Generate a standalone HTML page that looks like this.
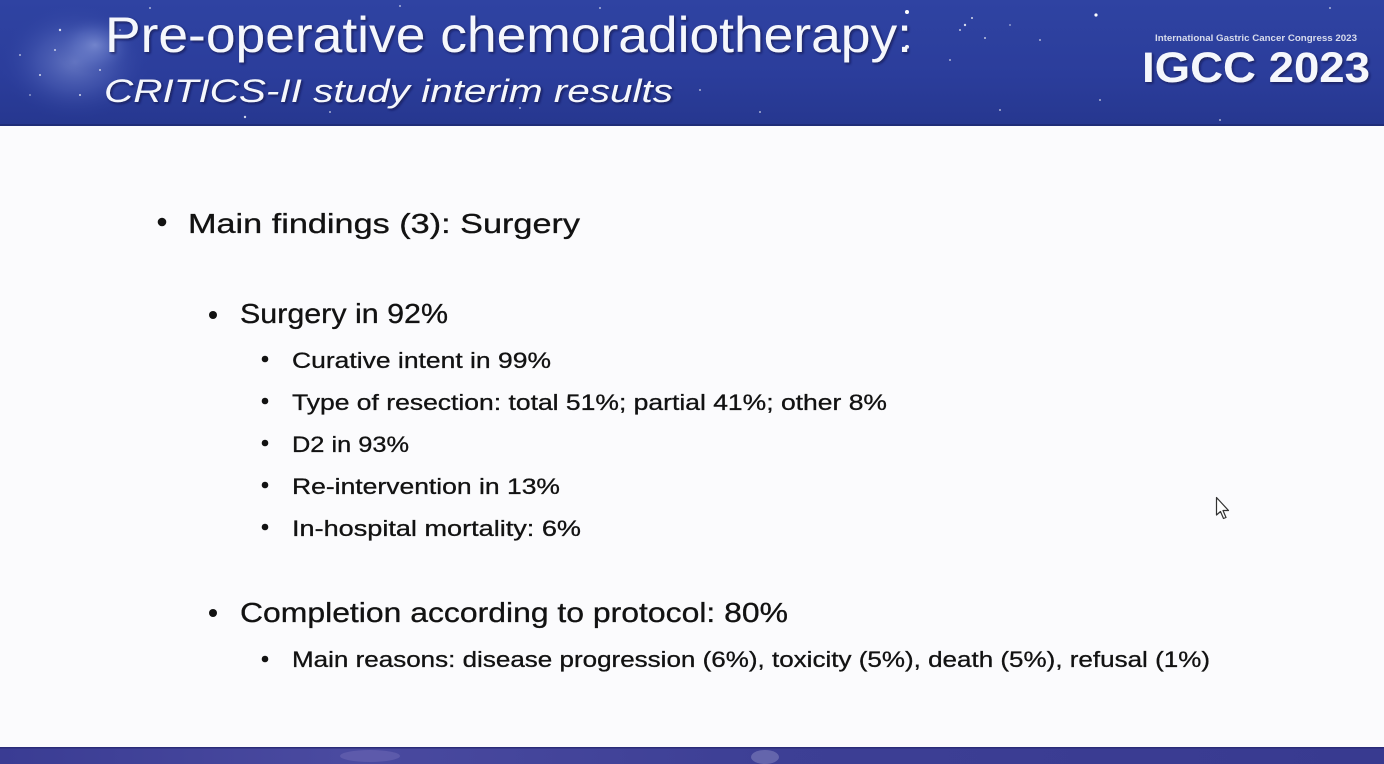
<!DOCTYPE html>
<html>
<head>
<meta charset="utf-8">
<style>
  html,body{margin:0;padding:0;background:#fbfbfd;}
  body{width:1384px;height:764px;overflow:hidden;}
  svg{display:block;}
  .b{font-family:"Liberation Sans","DejaVu Sans",sans-serif;fill:#121212;stroke:#121212;stroke-width:0.3;}
  .w{font-family:"Liberation Sans","DejaVu Sans",sans-serif;fill:#f5f7fc;}
</style>
</head>
<body>
<svg width="1384" height="764" viewBox="0 0 1384 764" xmlns="http://www.w3.org/2000/svg">
  <defs>
    <linearGradient id="hdr" x1="0" y1="0" x2="0" y2="1">
      <stop offset="0" stop-color="#2f43a2"/>
      <stop offset="0.6" stop-color="#2b3d9b"/>
      <stop offset="1" stop-color="#26378f"/>
    </linearGradient>
    <radialGradient id="neb" cx="0.5" cy="0.5" r="0.5">
      <stop offset="0" stop-color="#9fb0e8" stop-opacity="0.5"/>
      <stop offset="0.5" stop-color="#6f83d0" stop-opacity="0.28"/>
      <stop offset="1" stop-color="#2f43a2" stop-opacity="0"/>
    </radialGradient>
    <linearGradient id="ftr" x1="0" y1="0" x2="1" y2="0">
      <stop offset="0" stop-color="#3a3c93"/>
      <stop offset="0.25" stop-color="#4a4aa0"/>
      <stop offset="0.55" stop-color="#3d3f95"/>
      <stop offset="1" stop-color="#383a90"/>
    </linearGradient>
    <filter id="sh" x="-5%" y="-20%" width="110%" height="140%">
      <feDropShadow dx="1.5" dy="1.5" stdDeviation="1.2" flood-color="#0a1040" flood-opacity="0.7"/>
    </filter>
  </defs>

  <rect x="0" y="0" width="1384" height="764" fill="#fbfbfd"/>

  <!-- header -->
  <rect x="0" y="0" width="1384" height="126" fill="url(#hdr)"/>
  <ellipse cx="75" cy="62" rx="75" ry="58" fill="url(#neb)"/>
  <ellipse cx="95" cy="45" rx="40" ry="30" fill="url(#neb)"/>
  <rect x="0" y="124" width="1384" height="2" fill="#1f2d78"/>
  <g fill="#ffffff">
    <circle cx="907" cy="12" r="2"/><circle cx="907" cy="47" r="2"/>
    <circle cx="1096" cy="15" r="1.6"/><circle cx="965" cy="25" r="1.2" opacity="0.8"/>
    <circle cx="972" cy="18" r="1" opacity="0.8"/><circle cx="960" cy="30" r="1" opacity="0.7"/>
    <circle cx="985" cy="38" r="1" opacity="0.7"/><circle cx="1010" cy="25" r="0.9" opacity="0.6"/>
    <circle cx="950" cy="60" r="1" opacity="0.6"/><circle cx="1040" cy="40" r="1" opacity="0.6"/>
    <circle cx="245" cy="117" r="1.2" opacity="0.8"/><circle cx="330" cy="112" r="1" opacity="0.6"/>
    <circle cx="520" cy="108" r="1" opacity="0.6"/><circle cx="700" cy="90" r="1" opacity="0.6"/>
    <circle cx="760" cy="112" r="1" opacity="0.6"/><circle cx="1000" cy="110" r="1" opacity="0.6"/>
    <circle cx="1100" cy="100" r="1" opacity="0.6"/><circle cx="1220" cy="120" r="1" opacity="0.6"/>
    <circle cx="1330" cy="8" r="1" opacity="0.6"/><circle cx="600" cy="8" r="1" opacity="0.6"/>
    <circle cx="400" cy="6" r="1" opacity="0.6"/><circle cx="150" cy="8" r="1" opacity="0.6"/>
    <circle cx="60" cy="30" r="1.2" opacity="0.8"/><circle cx="40" cy="75" r="1" opacity="0.8"/>
    <circle cx="80" cy="95" r="1" opacity="0.8"/><circle cx="20" cy="55" r="1" opacity="0.6"/>
    <circle cx="55" cy="50" r="1" opacity="0.7"/><circle cx="100" cy="70" r="1" opacity="0.7"/>
    <circle cx="30" cy="95" r="0.9" opacity="0.6"/><circle cx="120" cy="30" r="0.9" opacity="0.6"/>
  </g>

  <!-- header text -->
  <text class="w" x="105" y="52" font-size="50" textLength="807" lengthAdjust="spacingAndGlyphs" filter="url(#sh)">Pre-operative chemoradiotherapy:</text>
  <text class="w" x="104" y="102" font-size="32" font-style="italic" textLength="569" lengthAdjust="spacingAndGlyphs" filter="url(#sh)">CRITICS-II study interim results</text>
  <text x="1155" y="41" font-family="Liberation Sans, sans-serif" font-size="9" font-weight="bold" fill="#d8dcec" textLength="202" lengthAdjust="spacingAndGlyphs">International Gastric Cancer Congress 2023</text>
  <text class="w" x="1142" y="82" font-size="43" font-weight="bold" textLength="228" lengthAdjust="spacingAndGlyphs" filter="url(#sh)">IGCC 2023</text>

  <!-- footer -->
  <rect x="0" y="747" width="1384" height="17" fill="url(#ftr)"/>
  <rect x="0" y="747" width="1384" height="1.5" fill="#2a2c78"/>
  <ellipse cx="370" cy="756" rx="30" ry="6" fill="#8a80c8" opacity="0.3"/>
  <ellipse cx="765" cy="757" rx="14" ry="7" fill="#b0acd8" opacity="0.35"/>

  <!-- level 1 -->
  <circle cx="162" cy="222" r="4.3" fill="#121212"/>
  <text class="b" x="188" y="233" font-size="28" textLength="392" lengthAdjust="spacingAndGlyphs">Main findings (3): Surgery</text>

  <!-- level 2 -->
  <circle cx="213" cy="315" r="4" fill="#121212"/>
  <text class="b" x="240" y="323" font-size="27.5" textLength="208" lengthAdjust="spacingAndGlyphs">Surgery in 92%</text>

  <!-- level 3 -->
  <g fill="#121212">
    <circle cx="265" cy="359" r="3.3"/>
    <circle cx="265" cy="401" r="3.3"/>
    <circle cx="265" cy="443" r="3.3"/>
    <circle cx="265" cy="485" r="3.3"/>
    <circle cx="265" cy="527" r="3.3"/>
  </g>
  <text class="b" x="292" y="368" font-size="22" textLength="259" lengthAdjust="spacingAndGlyphs">Curative intent in 99%</text>
  <text class="b" x="292" y="410" font-size="22" textLength="595" lengthAdjust="spacingAndGlyphs">Type of resection: total 51%; partial 41%; other 8%</text>
  <text class="b" x="292" y="452" font-size="22" textLength="117" lengthAdjust="spacingAndGlyphs">D2 in 93%</text>
  <text class="b" x="292" y="494" font-size="22" textLength="268" lengthAdjust="spacingAndGlyphs">Re-intervention in 13%</text>
  <text class="b" x="292" y="536" font-size="22" textLength="289" lengthAdjust="spacingAndGlyphs">In-hospital mortality: 6%</text>

  <!-- level 2 -->
  <circle cx="213" cy="613" r="4" fill="#121212"/>
  <text class="b" x="240" y="622" font-size="27.5" textLength="548" lengthAdjust="spacingAndGlyphs">Completion according to protocol: 80%</text>

  <!-- level 3 -->
  <circle cx="265" cy="659" r="3.3" fill="#121212"/>
  <text class="b" x="292" y="667" font-size="22" textLength="918" lengthAdjust="spacingAndGlyphs">Main reasons: disease progression (6%), toxicity (5%), death (5%), refusal (1%)</text>

  <!-- mouse cursor -->
  <path d="M1216.5,497.5 L1216.5,515 L1220.5,511.5 L1223.5,518.5 L1226,517.5 L1223,510.5 L1228.5,510.5 Z" fill="#ffffff" stroke="#333" stroke-width="1.2" stroke-linejoin="round"/>
</svg>
</body>
</html>
